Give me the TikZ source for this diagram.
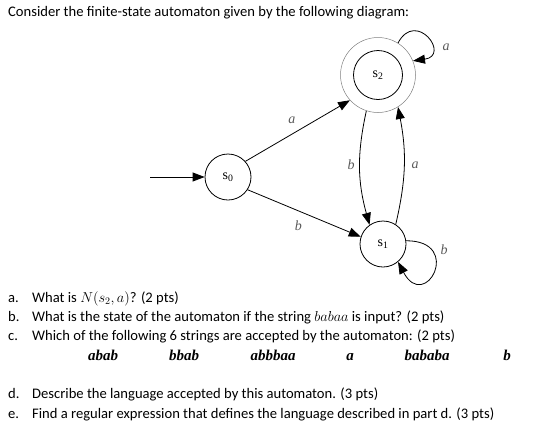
\documentclass[tikz,border=0pt]{standalone}
\usepackage{fontspec}
\setmainfont{Carlito}
\newfontfamily\serif{Liberation Serif}
\usetikzlibrary{positioning,arrows.meta}

\begin{document}
\begin{tikzpicture}[x=1pt,y=1pt
    , every node/.style={inner sep=0pt}
    , state/.style={draw,circle,line width=0.8pt,minimum size=46pt,font=\serif\fontsize{14}{14}\selectfont}
    , accept/.style={draw=gray,circle,line width=0.5pt,minimum size=75pt}
    , trans/.style={line width=0.8pt,-{Triangle[length=12pt,width=9pt]}}
    , lbl/.style={text=black!65,font=\serif\itshape\fontsize{14}{14}\selectfont}
    , txt/.style={anchor=base west,font=\fontsize{14.6}{17}\selectfont}
    , str/.style={anchor=base,font=\serif\bfseries\itshape\fontsize{15}{17}\selectfont}
]
    \useasboundingbox (0,0) rectangle (544,-440);

    \node[txt] (title) at (8,-16) {Consider the finite-state automaton given by the following diagram:};

    % States.
    \node[state] (s0) at (228,-177) {s\textsubscript{0}};
    \node[state,minimum size=49pt] (s2) at (378,-75) {s\textsubscript{2}};
    \node[accept] (s2o) at (s2) {};
    \node[state] (s1) at (383,-244) {s\textsubscript{1}};

    \coordinate (start) at (150,-177);
    \draw[trans] (start) -- (s0);

    % Transitions.
    \draw[trans] (s0.42) -- node[lbl,above left=7pt and 2pt] (la02) {a} (s2o.222);
    \draw[trans] (s0.-33) -- node[lbl,below left=7pt and 2pt] (lb01) {b} (s1.162);
    \draw[trans] (s2o.252) to[bend right=14] (s1.125);
    \node[lbl] (lb21) at (351,-165) {b};
    \draw[trans] (s1.57) to[bend right=12] (s2o.-58);
    \node[lbl] (la12) at (415,-165) {a};

    % Loops.
    \draw[trans] (s2o.58) to[out=62,in=8,looseness=4.2] (s2o.22);
    \node[lbl] (la22) at (446,-47) {a};
    \draw[trans] (s1.8) to[out=0,in=-62,looseness=6.5] (s1.-50);
    \node[lbl] (lb11) at (444,-250) {b};

    % Questions.
    \node[txt] (qa) at (8,-302) {a.};
    \node[txt] (qb) at (8,-321) {b.};
    \node[txt] (qc) at (8,-340) {c.};
    \node[txt] (qd) at (8,-398) {d.};
    \node[txt] (qe) at (8,-418) {e.};
    \node[txt] at (32,-302) {What is $N(s_2,a)$? (2 pts)};
    \node[txt] at (32,-321) {What is the state of the automaton if the string $babaa$ is input? (2 pts)};
    \node[txt] at (32,-340) {Which of the following 6 strings are accepted by the automaton: (2 pts)};
    \node[txt] at (32,-398) {Describe the language accepted by this automaton. (3 pts)};
    \node[txt] at (32,-418) {Find a regular expression that defines the language described in part d. (3 pts)};

    \foreach \w/\x in {abab/103,bbab/184,abbbaa/273,a/350,bababa/427,b/507}
        \node[str] (w\w) at (\x,-360) {\w};
\end{tikzpicture}
\end{document}
